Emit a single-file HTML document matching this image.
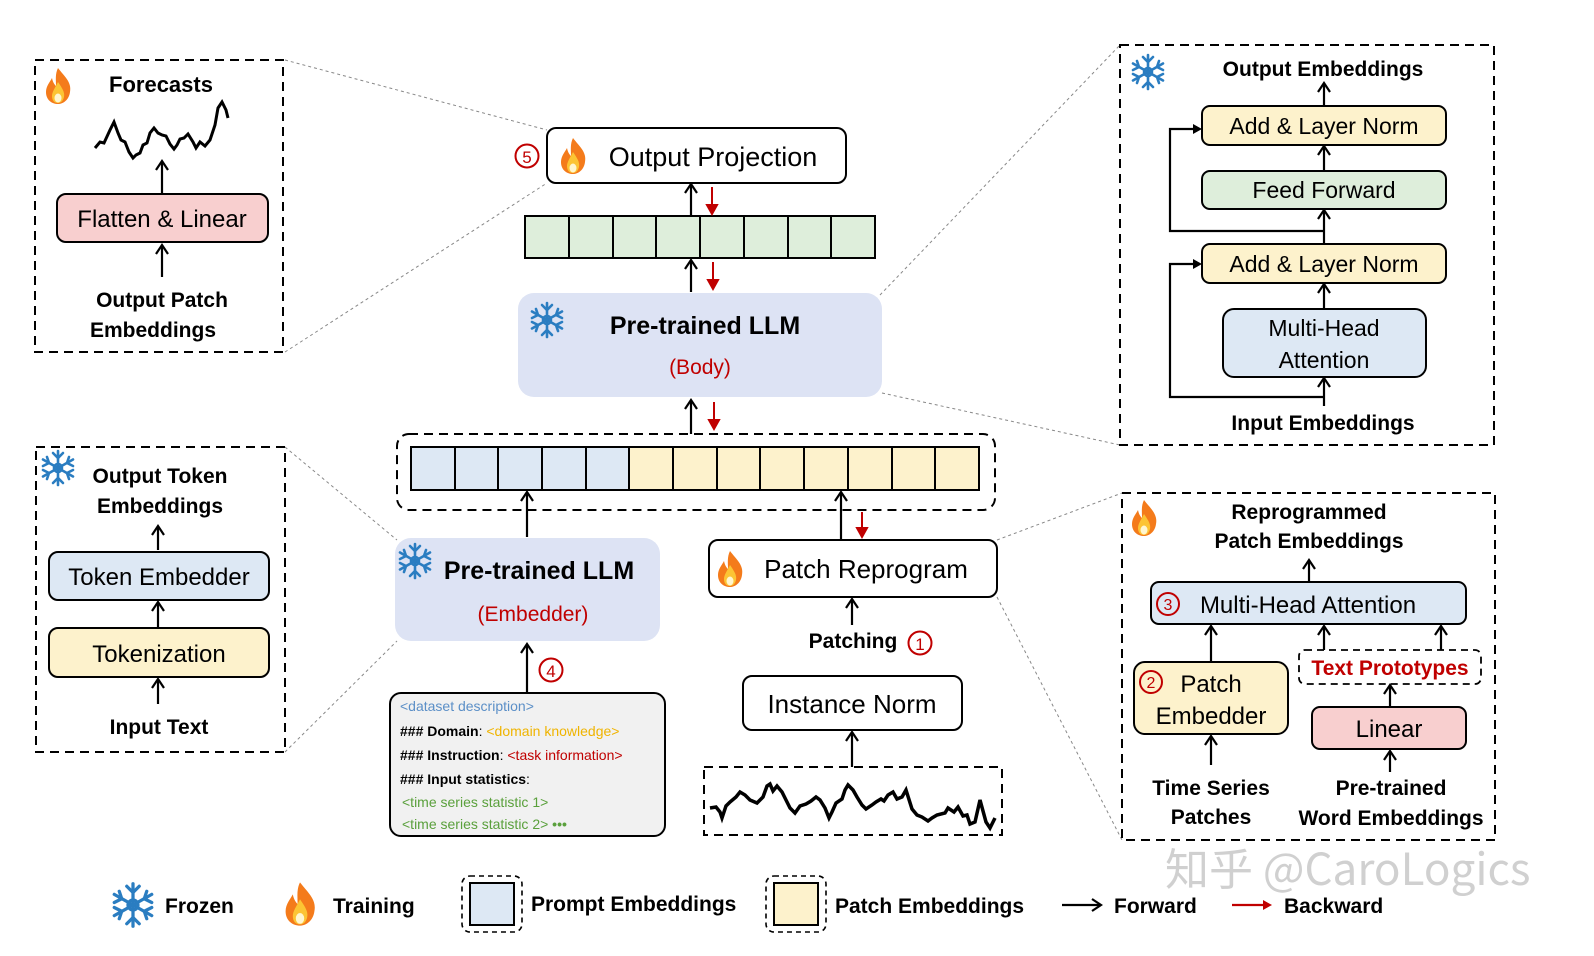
<!DOCTYPE html>
<html><head><meta charset="utf-8"><style>
html,body{margin:0;padding:0;background:#fff;}
svg{display:block;}
text{font-family:"Liberation Sans","Noto Sans CJK SC",sans-serif;fill:#000;}
</style></head><body>
<svg width="1594" height="956" viewBox="0 0 1594 956" xmlns="http://www.w3.org/2000/svg">
<defs>
<marker id="ah" markerWidth="12" markerHeight="12" refX="6" refY="2" orient="auto" markerUnits="userSpaceOnUse">
</marker>
<g id="fire">
<path d="M0,-18 C6,-10 14,-4 12,6 C11,14 5,18 0,18 C-6,18 -12,14 -12,6 C-12,0 -8,-4 -6,-8 C-5,-3 -3,-1 -2,0 C-2,-6 -3,-12 0,-18Z" fill="#f47b1b"/>
<path d="M0,-4 C4,2 7,6 6,11 C5,15 3,17 0,17 C-4,17 -6,14 -6,10 C-6,6 -3,2 0,-4Z" fill="#fcc434"/>
<ellipse cx="0" cy="12" rx="3.5" ry="4.5" fill="#fff6d0"/>
</g>
<g id="snow" stroke="#2a7dc1" stroke-width="2.6" fill="none" stroke-linecap="round">
<line x1="0" y1="-17" x2="0" y2="17"/><line x1="-15" y1="-8.5" x2="15" y2="8.5"/><line x1="-15" y1="8.5" x2="15" y2="-8.5"/>
<path d="M-5,-15 L0,-10 L5,-15 M-5,15 L0,10 L5,15 M-15,-2 L-9,-5 L-11,-11 M15,2 L9,5 L11,11 M-15,2 L-9,5 L-11,11 M15,-2 L9,-5 L11,-11"/>
<circle cx="0" cy="0" r="4"/>
</g>
</defs>

<!-- dotted connector lines -->
<g stroke="#888" stroke-width="1" stroke-dasharray="3,3" fill="none">
<line x1="285" y1="60" x2="547" y2="130"/>
<line x1="285" y1="352" x2="547" y2="183"/>
<line x1="285" y1="447" x2="397" y2="540"/>
<line x1="285" y1="752" x2="397" y2="641"/>
<line x1="880" y1="295" x2="1120" y2="45"/>
<line x1="882" y1="393" x2="1120" y2="445"/>
<line x1="997" y1="540" x2="1122" y2="493"/>
<line x1="997" y1="597" x2="1122" y2="840"/>
</g>

<!-- Top-left box -->
<rect x="35" y="60" width="248" height="292" fill="none" stroke="#000" stroke-width="2" stroke-dasharray="9,6"/>
<use href="#fire" x="58" y="86"/>
<text x="161" y="92" font-size="22" font-weight="bold" text-anchor="middle">Forecasts</text>
<path d="M95,148 L100,142 L104,143 L110,130 L114,122 L118,133 L121,140 L125,142 L129,152 L133,158 L136,155 L140,153 L143,145 L147,143 L150,133 L154,128 L158,133 L162,135 L166,136 L170,144 L174,149 L177,145 L180,139 L184,138 L188,134 L193,142 L196,148 L200,142 L205,146 L210,140 L215,125 L218,108 L222,102 L226,110 L228,118" fill="none" stroke="#000" stroke-width="3"/>
<g stroke="#000" stroke-width="2.2" fill="none">
<line x1="162" y1="193" x2="162" y2="162"/><path d="M156,170 L162,161 L168,170"/>
<line x1="162" y1="277" x2="162" y2="246"/><path d="M156,254 L162,245 L168,254"/>
</g>
<rect x="57" y="194" width="211" height="48" rx="9" fill="#f8cfcf" stroke="#000" stroke-width="2"/>
<text x="162" y="227" font-size="24" text-anchor="middle">Flatten &amp; Linear</text>
<text x="162" y="307" font-size="21" font-weight="bold" text-anchor="middle">Output Patch</text>
<text x="153" y="337" font-size="21" font-weight="bold" text-anchor="middle">Embeddings</text>

<!-- Output projection -->
<circle cx="527" cy="156" r="11.5" fill="none" stroke="#c00000" stroke-width="2"/>
<text x="527" y="163" font-size="17" text-anchor="middle" style="fill:#c00000">5</text>
<rect x="547" y="128" width="299" height="55" rx="9" fill="#fff" stroke="#000" stroke-width="2"/>
<use href="#fire" x="573" y="156"/>
<text x="713" y="166" font-size="27" text-anchor="middle">Output Projection</text>

<!-- Green row -->
<g stroke="#000" stroke-width="2" fill="#deeedb">
<rect x="525" y="216" width="350" height="42"/>
</g>
<g stroke="#000" stroke-width="2">
<line x1="569" y1="216" x2="569" y2="258"/><line x1="613" y1="216" x2="613" y2="258"/><line x1="656" y1="216" x2="656" y2="258"/><line x1="700" y1="216" x2="700" y2="258"/><line x1="744" y1="216" x2="744" y2="258"/><line x1="788" y1="216" x2="788" y2="258"/><line x1="831" y1="216" x2="831" y2="258"/>
</g>

<!-- arrows main column -->
<g stroke="#000" stroke-width="2.2" fill="none">
<line x1="691" y1="216" x2="691" y2="185"/><path d="M685,193 L691,184 L697,193"/>
<line x1="691" y1="292" x2="691" y2="261"/><path d="M685,269 L691,260 L697,269"/>
<line x1="691" y1="434" x2="691" y2="401"/><path d="M685,409 L691,400 L697,409"/>
<line x1="527" y1="537" x2="527" y2="493"/><path d="M521,501 L527,492 L533,501"/>
<line x1="841" y1="540" x2="841" y2="493"/><path d="M835,501 L841,492 L847,501"/>
<line x1="527" y1="692" x2="527" y2="645"/><path d="M521,653 L527,644 L533,653"/>
<line x1="852" y1="625" x2="852" y2="600"/><path d="M846,608 L852,599 L858,608"/>
<line x1="852" y1="767" x2="852" y2="733"/><path d="M846,741 L852,732 L858,741"/>
</g>
<g stroke="#c00000" stroke-width="2" fill="#c00000">
<line x1="712" y1="187" x2="712" y2="206"/><path d="M707,205 L712,214 L717,205Z"/>
<line x1="713" y1="262" x2="713" y2="281"/><path d="M708,280 L713,289 L718,280Z"/>
<line x1="714" y1="402" x2="714" y2="421"/><path d="M709,420 L714,429 L719,420Z"/>
<line x1="862" y1="512" x2="862" y2="529"/><path d="M857,528 L862,537 L867,528Z"/>
</g>

<!-- LLM body -->
<rect x="518" y="293" width="364" height="104" rx="16" fill="#dde3f4"/>
<use href="#snow" x="547" y="320"/>
<text x="705" y="334" font-size="25" font-weight="bold" text-anchor="middle">Pre-trained LLM</text>
<text x="700" y="374" font-size="21" text-anchor="middle" style="fill:#c00000">(Body)</text>

<!-- Middle embedding row -->
<rect x="397" y="434" width="598" height="76" rx="12" fill="none" stroke="#000" stroke-width="2" stroke-dasharray="9,6"/>
<rect x="411" y="447" width="218" height="43" fill="#dde8f4" stroke="#000" stroke-width="2"/>
<rect x="629" y="447" width="350" height="43" fill="#fdf2cc" stroke="#000" stroke-width="2"/>
<g stroke="#000" stroke-width="2">
<line x1="455" y1="447" x2="455" y2="490"/><line x1="498" y1="447" x2="498" y2="490"/><line x1="542" y1="447" x2="542" y2="490"/><line x1="586" y1="447" x2="586" y2="490"/>
<line x1="673" y1="447" x2="673" y2="490"/><line x1="717" y1="447" x2="717" y2="490"/><line x1="760" y1="447" x2="760" y2="490"/><line x1="804" y1="447" x2="804" y2="490"/><line x1="848" y1="447" x2="848" y2="490"/><line x1="892" y1="447" x2="892" y2="490"/><line x1="935" y1="447" x2="935" y2="490"/>
</g>

<!-- LLM embedder -->
<rect x="395" y="538" width="265" height="103" rx="16" fill="#dde3f4"/>
<use href="#snow" x="415" y="561"/>
<text x="539" y="579" font-size="25" font-weight="bold" text-anchor="middle">Pre-trained LLM</text>
<text x="533" y="621" font-size="21" text-anchor="middle" style="fill:#c00000">(Embedder)</text>
<circle cx="551" cy="670" r="11.5" fill="none" stroke="#c00000" stroke-width="2"/>
<text x="551" y="677" font-size="17" text-anchor="middle" style="fill:#c00000">4</text>

<!-- prompt box -->
<rect x="390" y="693" width="275" height="143" rx="11" fill="#f1f1f1" stroke="#000" stroke-width="2"/>
<g font-size="14">
<text x="400" y="711" style="fill:#5b8fc7">&lt;dataset description&gt;</text>
<text x="400" y="736"><tspan font-weight="bold">### Domain</tspan>: <tspan style="fill:#f0b400">&lt;domain knowledge&gt;</tspan></text>
<text x="400" y="760"><tspan font-weight="bold">### Instruction</tspan>: <tspan style="fill:#c00000">&lt;task information&gt;</tspan></text>
<text x="400" y="784"><tspan font-weight="bold">### Input statistics</tspan>:</text>
<text x="402" y="807" style="fill:#5aa03c">&lt;time series statistic 1&gt;</text>
<text x="402" y="829" style="fill:#5aa03c">&lt;time series statistic 2&gt;  <tspan font-weight="bold">•••</tspan></text>
</g>

<!-- Patch reprogram -->
<rect x="709" y="540" width="288" height="57" rx="9" fill="#fff" stroke="#000" stroke-width="2"/>
<use href="#fire" x="730" y="569"/>
<text x="866" y="578" font-size="26" text-anchor="middle">Patch Reprogram</text>
<text x="853" y="648" font-size="21" font-weight="bold" text-anchor="middle">Patching</text>
<circle cx="920" cy="643" r="11.5" fill="none" stroke="#c00000" stroke-width="2"/>
<text x="920" y="650" font-size="17" text-anchor="middle" style="fill:#c00000">1</text>
<rect x="743" y="676" width="219" height="54" rx="9" fill="#fff" stroke="#000" stroke-width="2"/>
<text x="852" y="713" font-size="26" text-anchor="middle">Instance Norm</text>
<rect x="704" y="767" width="298" height="68" fill="none" stroke="#000" stroke-width="2" stroke-dasharray="9,6"/>
<path d="M710,808 L716,807 L720,812 L722,818 L726,806 L730,802 L736,797 L740,792 L745,795 L750,800 L757,803 L763,797 L767,786 L770,784 L773,791 L777,786 L782,792 L786,800 L790,808 L795,813 L800,806 L806,804 L811,801 L816,797 L820,800 L825,808 L829,818 L832,812 L836,803 L842,799 L845,790 L848,785 L853,790 L857,797 L862,805 L866,809 L872,805 L876,802 L881,799 L884,801 L888,795 L893,792 L897,799 L902,797 L906,790 L912,809 L917,815 L922,817 L928,821 L932,818 L937,815 L945,813 L948,808 L954,812 L958,807 L963,816 L967,815 L970,824 L975,822 L980,800 L986,822 L990,828 L995,818" fill="none" stroke="#000" stroke-width="3.5"/>

<!-- Bottom-left box -->
<rect x="36" y="447" width="249" height="305" fill="none" stroke="#000" stroke-width="2" stroke-dasharray="9,6"/>
<use href="#snow" x="58" y="468"/>
<text x="160" y="483" font-size="21" font-weight="bold" text-anchor="middle">Output Token</text>
<text x="160" y="513" font-size="21" font-weight="bold" text-anchor="middle">Embeddings</text>
<g stroke="#000" stroke-width="2.2" fill="none">
<line x1="158" y1="550" x2="158" y2="527"/><path d="M152,535 L158,526 L164,535"/>
<line x1="158" y1="627" x2="158" y2="603"/><path d="M152,611 L158,602 L164,611"/>
<line x1="158" y1="704" x2="158" y2="680"/><path d="M152,688 L158,679 L164,688"/>
</g>
<rect x="49" y="552" width="220" height="48" rx="9" fill="#dde8f4" stroke="#000" stroke-width="2"/>
<text x="159" y="585" font-size="24" text-anchor="middle">Token Embedder</text>
<rect x="49" y="628" width="220" height="49" rx="9" fill="#fdf2cc" stroke="#000" stroke-width="2"/>
<text x="159" y="662" font-size="24" text-anchor="middle">Tokenization</text>
<text x="159" y="734" font-size="21" font-weight="bold" text-anchor="middle">Input Text</text>

<!-- Right top box -->
<rect x="1120" y="45" width="374" height="400" fill="none" stroke="#000" stroke-width="2" stroke-dasharray="9,6"/>
<use href="#snow" x="1148" y="72"/>
<text x="1323" y="76" font-size="21" font-weight="bold" text-anchor="middle">Output Embeddings</text>
<g stroke="#000" stroke-width="2.2" fill="none">
<line x1="1324" y1="105" x2="1324" y2="84"/><path d="M1318,92 L1324,83 L1330,92"/>
<line x1="1324" y1="170" x2="1324" y2="147"/><path d="M1318,155 L1324,146 L1330,155"/>
<line x1="1324" y1="243" x2="1324" y2="211"/><path d="M1318,219 L1324,210 L1330,219"/>
<line x1="1324" y1="308" x2="1324" y2="285"/><path d="M1318,293 L1324,284 L1330,293"/>
<line x1="1324" y1="406" x2="1324" y2="379"/><path d="M1318,387 L1324,378 L1330,387"/>
<path d="M1324,231 L1170,231 L1170,129 L1196,129"/>
<path d="M1324,397 L1170,397 L1170,264 L1196,264"/>
</g>
<path d="M1193,124 L1202,129 L1193,134Z M1193,259 L1202,264 L1193,269Z" fill="#000"/>
<rect x="1202" y="106" width="244" height="39" rx="8" fill="#fdf2cc" stroke="#000" stroke-width="2"/>
<text x="1324" y="134" font-size="23" text-anchor="middle">Add &amp; Layer Norm</text>
<rect x="1202" y="171" width="244" height="38" rx="8" fill="#deeedb" stroke="#000" stroke-width="2"/>
<text x="1324" y="198" font-size="23" text-anchor="middle">Feed Forward</text>
<rect x="1202" y="244" width="244" height="39" rx="8" fill="#fdf2cc" stroke="#000" stroke-width="2"/>
<text x="1324" y="272" font-size="23" text-anchor="middle">Add &amp; Layer Norm</text>
<rect x="1223" y="309" width="203" height="68" rx="11" fill="#dde8f4" stroke="#000" stroke-width="2"/>
<text x="1324" y="336" font-size="23" text-anchor="middle">Multi-Head</text>
<text x="1324" y="368" font-size="23" text-anchor="middle">Attention</text>
<text x="1323" y="430" font-size="21" font-weight="bold" text-anchor="middle">Input Embeddings</text>

<!-- Right bottom box -->
<rect x="1122" y="493" width="373" height="347" fill="none" stroke="#000" stroke-width="2" stroke-dasharray="9,6"/>
<use href="#fire" x="1144" y="518"/>
<text x="1309" y="519" font-size="21" font-weight="bold" text-anchor="middle">Reprogrammed</text>
<text x="1309" y="548" font-size="21" font-weight="bold" text-anchor="middle">Patch Embeddings</text>
<g stroke="#000" stroke-width="2.2" fill="none">
<line x1="1309" y1="581" x2="1309" y2="561"/><path d="M1303,569 L1309,560 L1315,569"/>
<line x1="1211" y1="662" x2="1211" y2="627"/><path d="M1205,635 L1211,626 L1217,635"/>
<line x1="1324" y1="650" x2="1324" y2="627"/><path d="M1318,635 L1324,626 L1330,635"/>
<line x1="1441" y1="650" x2="1441" y2="627"/><path d="M1435,635 L1441,626 L1447,635"/>
<line x1="1390" y1="707" x2="1390" y2="686"/><path d="M1384,694 L1390,685 L1396,694"/>
<line x1="1211" y1="765" x2="1211" y2="737"/><path d="M1205,745 L1211,736 L1217,745"/>
<line x1="1390" y1="772" x2="1390" y2="752"/><path d="M1384,760 L1390,751 L1396,760"/>
</g>
<rect x="1151" y="582" width="315" height="42" rx="8" fill="#dde8f4" stroke="#000" stroke-width="2"/>
<circle cx="1168" cy="604" r="11" fill="none" stroke="#c00000" stroke-width="2"/>
<text x="1168" y="610" font-size="16" text-anchor="middle" style="fill:#c00000">3</text>
<text x="1308" y="613" font-size="24" text-anchor="middle">Multi-Head Attention</text>
<rect x="1134" y="662" width="154" height="72" rx="11" fill="#fdf2cc" stroke="#000" stroke-width="2"/>
<circle cx="1151" cy="682" r="11" fill="none" stroke="#c00000" stroke-width="2"/>
<text x="1151" y="688" font-size="16" text-anchor="middle" style="fill:#c00000">2</text>
<text x="1211" y="692" font-size="24" text-anchor="middle">Patch</text>
<text x="1211" y="724" font-size="24" text-anchor="middle">Embedder</text>
<rect x="1299" y="650" width="182" height="34" rx="6" fill="none" stroke="#000" stroke-width="1.8" stroke-dasharray="7,5"/>
<text x="1390" y="675" font-size="21" font-weight="bold" text-anchor="middle" style="fill:#c00000">Text Prototypes</text>
<rect x="1312" y="707" width="154" height="42" rx="8" fill="#f8cfcf" stroke="#000" stroke-width="2"/>
<text x="1389" y="737" font-size="24" text-anchor="middle">Linear</text>
<text x="1211" y="795" font-size="21" font-weight="bold" text-anchor="middle">Time Series</text>
<text x="1211" y="824" font-size="21" font-weight="bold" text-anchor="middle">Patches</text>
<text x="1391" y="795" font-size="21" font-weight="bold" text-anchor="middle">Pre-trained</text>
<text x="1391" y="825" font-size="21" font-weight="bold" text-anchor="middle">Word Embeddings</text>

<!-- watermark -->
<text x="1165" y="885" font-size="44" style="fill:#d0d0d0;font-family:'Noto Sans CJK SC','Liberation Sans',sans-serif">知乎 @CaroLogics</text>

<!-- legend -->
<use href="#snow" x="133" y="905" transform="translate(-33.25 -226.25) scale(1.25)"/>
<text x="165" y="913" font-size="21" font-weight="bold">Frozen</text>
<use href="#fire" x="0" y="0" transform="translate(300 904) scale(1.2)"/>
<text x="333" y="913" font-size="21" font-weight="bold">Training</text>
<rect x="462" y="876" width="60" height="56" rx="8" fill="none" stroke="#000" stroke-width="1.6" stroke-dasharray="5,4"/>
<rect x="470" y="883" width="44" height="42" fill="#dde8f4" stroke="#000" stroke-width="2"/>
<text x="531" y="911" font-size="21" font-weight="bold">Prompt Embeddings</text>
<rect x="766" y="876" width="60" height="56" rx="8" fill="none" stroke="#000" stroke-width="1.6" stroke-dasharray="5,4"/>
<rect x="774" y="883" width="44" height="42" fill="#fdf2cc" stroke="#000" stroke-width="2"/>
<text x="835" y="913" font-size="21" font-weight="bold">Patch Embeddings</text>
<line x1="1062" y1="905" x2="1100" y2="905" stroke="#000" stroke-width="2.2"/>
<path d="M1092,899 L1101,905 L1092,911" fill="none" stroke="#000" stroke-width="2.2"/>
<text x="1114" y="913" font-size="21" font-weight="bold">Forward</text>
<line x1="1232" y1="905" x2="1265" y2="905" stroke="#c00000" stroke-width="2.2"/>
<path d="M1263,900 L1272,905 L1263,910Z" fill="#c00000"/>
<text x="1284" y="913" font-size="21" font-weight="bold">Backward</text>
</svg>
</body></html>
